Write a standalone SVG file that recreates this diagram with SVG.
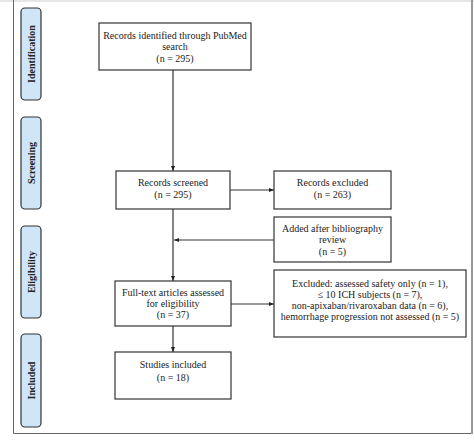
<svg xmlns="http://www.w3.org/2000/svg" width="474" height="448" viewBox="0 0 474 448">
<defs>
<marker id="ah" viewBox="0 0 10 10" refX="10" refY="5" markerWidth="5" markerHeight="5" orient="auto-start-reverse" markerUnits="userSpaceOnUse">
<path d="M0,1 L10,5 L0,9 z" fill="#222"/>
</marker>
</defs>
<style>
.box{fill:#fff;stroke:#333;stroke-width:1.2}
.side{fill:#cfe6f8;stroke:#333;stroke-width:1.2}
.t{font-family:"Liberation Serif","Times New Roman",serif;font-size:10px;fill:#222;text-anchor:middle}
.s{font-family:"Liberation Serif","Times New Roman",serif;font-size:10px;font-weight:bold;fill:#222;text-anchor:middle}
.c{fill:none;stroke:#333;stroke-width:1.2}
</style>
<rect x="0" y="0" width="474" height="448" fill="#fff"/>
<rect x="0" y="0" width="474" height="2" fill="#e6e6e6"/>
<g id="frame">
<path d="M13.5,0 V433.5 H472" fill="none" stroke="#666" stroke-width="1"/>
<line x1="472" y1="0" x2="472" y2="434" stroke="#999" stroke-width="2"/>
</g>
<g id="stage-identification">
<rect class="side" x="21" y="8" width="20" height="92" rx="4"/>
<text class="s" transform="translate(34.5,54) rotate(-90)">Identification</text>
</g>
<g id="stage-screening">
<rect class="side" x="21" y="117" width="20" height="92" rx="4"/>
<text class="s" transform="translate(34.5,163) rotate(-90)">Screening</text>
</g>
<g id="stage-eligibility">
<rect class="side" x="21" y="226" width="20" height="92" rx="4"/>
<text class="s" transform="translate(34.5,272) rotate(-90)">Eligibility</text>
</g>
<g id="stage-included">
<rect class="side" x="21" y="334" width="20" height="93" rx="4"/>
<text class="s" transform="translate(34.5,380.5) rotate(-90)">Included</text>
</g>
<g id="connectors">
<line class="c" x1="173" y1="70" x2="173" y2="171" marker-end="url(#ah)"/>
<line class="c" x1="230" y1="190" x2="274" y2="190" marker-end="url(#ah)"/>
<line class="c" x1="274" y1="240" x2="174" y2="240" marker-end="url(#ah)"/>
<line class="c" x1="173" y1="209" x2="173" y2="281" marker-end="url(#ah)"/>
<line class="c" x1="231" y1="304" x2="274" y2="304" marker-end="url(#ah)"/>
<line class="c" x1="173" y1="326" x2="173" y2="352" marker-end="url(#ah)"/>
</g>
<g id="records-identified">
<rect class="box" x="99" y="23" width="152" height="47"/>
<text class="t" x="175" y="39">Records identified through PubMed</text>
<text class="t" x="175" y="50">search</text>
<text class="t" x="175" y="62">(n = 295)</text>
</g>
<g id="records-screened">
<rect class="box" x="116" y="171" width="114" height="38"/>
<text class="t" x="173" y="186">Records screened</text>
<text class="t" x="173" y="198">(n = 295)</text>
</g>
<g id="records-excluded">
<rect class="box" x="274" y="171" width="117" height="38"/>
<text class="t" x="332.5" y="186">Records excluded</text>
<text class="t" x="332.5" y="198">(n = 263)</text>
</g>
<g id="added-bibliography">
<rect class="box" x="274" y="217" width="117" height="45"/>
<text class="t" x="332.5" y="232">Added after bibliography</text>
<text class="t" x="332.5" y="243">review</text>
<text class="t" x="332.5" y="255">(n = 5)</text>
</g>
<g id="full-text">
<rect class="box" x="115" y="281" width="116" height="45"/>
<text class="t" x="173" y="296">Full-text articles assessed</text>
<text class="t" x="173" y="307">for eligibility</text>
<text class="t" x="173" y="318">(n = 37)</text>
</g>
<g id="excluded-fulltext">
<rect class="box" x="274" y="270" width="192" height="67"/>
<text class="t" x="370" y="287">Excluded: assessed safety only (n = 1),</text>
<text class="t" x="370" y="298">≤ 10 ICH subjects (n = 7),</text>
<text class="t" x="370" y="309">non-apixaban/rivaroxaban data (n = 6),</text>
<text class="t" x="370" y="320">hemorrhage progression not assessed (n = 5)</text>
</g>
<g id="studies-included">
<rect class="box" x="115" y="352" width="116" height="47"/>
<text class="t" x="173" y="368">Studies included</text>
<text class="t" x="173" y="381">(n = 18)</text>
</g>
</svg>
